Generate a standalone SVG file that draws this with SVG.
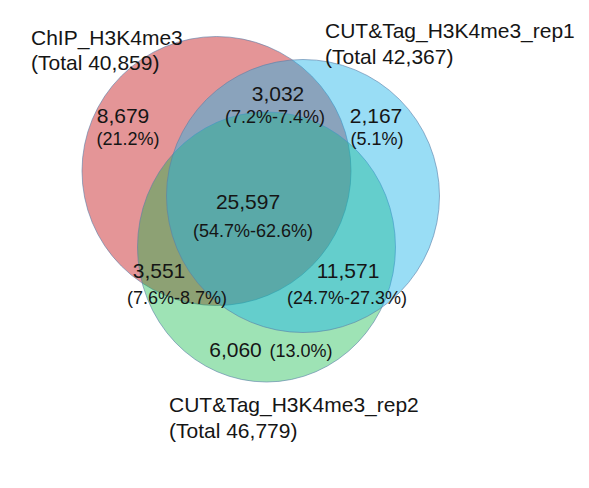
<svg xmlns="http://www.w3.org/2000/svg" width="589" height="488" viewBox="0 0 589 488">
<style>
  text { font-family: "Liberation Sans", Arial, sans-serif; fill: #151515; }
  .title { font-size: 21px; }
  .num { font-size: 21px; text-anchor: middle; }
  .pct { font-size: 18px; text-anchor: middle; }
  .set { stroke: #5a7fa8; stroke-opacity: 0.6; stroke-width: 1; }
</style>
<rect width="589" height="488" fill="#ffffff"/>
<g id="set-chip">
  <circle class="set" cx="216.5" cy="171" r="134.5" fill="#e49597"/>
  <text class="title" x="31" y="45">ChIP_H3K4me3</text>
  <text class="title" x="31" y="70">(Total 40,859)</text>
</g>
<g id="set-rep2">
  <ellipse class="set" cx="266.5" cy="247" rx="129" ry="135" fill="#00b53c" fill-opacity="0.38"/>
  <text class="title" x="169" y="412">CUT&amp;Tag_H3K4me3_rep2</text>
  <text class="title" x="169" y="438">(Total 46,779)</text>
</g>
<g id="set-rep1">
  <circle class="set" cx="303" cy="196" r="136.5" fill="#1cb3e9" fill-opacity="0.45"/>
  <text class="title" x="325" y="38">CUT&amp;Tag_H3K4me3_rep1</text>
  <text class="title" x="325" y="64">(Total 42,367)</text>
</g>
<g id="connectors"></g>
<g id="region-labels">
  <g id="r-chip-only"><text class="num" x="123" y="123">8,679</text><text class="pct" x="128" y="145">(21.2%)</text></g>
  <g id="r-chip-rep1"><text class="num" x="278" y="101">3,032</text><text class="pct" x="275" y="123">(7.2%-7.4%)</text></g>
  <g id="r-rep1-only"><text class="num" x="376" y="123">2,167</text><text class="pct" x="377" y="145">(5.1%)</text></g>
  <g id="r-all"><text class="num" x="248" y="209">25,597</text><text class="pct" x="253" y="237">(54.7%-62.6%)</text></g>
  <g id="r-chip-rep2"><text class="num" x="159" y="278">3,551</text><text class="pct" x="177" y="304">(7.6%-8.7%)</text></g>
  <g id="r-rep1-rep2"><text class="num" x="348" y="278">11,571</text><text class="pct" x="347" y="304">(24.7%-27.3%)</text></g>
  <g id="r-rep2-only"><text class="num" x="235.5" y="357">6,060</text><text class="pct" x="301" y="357">(13.0%)</text></g>
</g>
</svg>
